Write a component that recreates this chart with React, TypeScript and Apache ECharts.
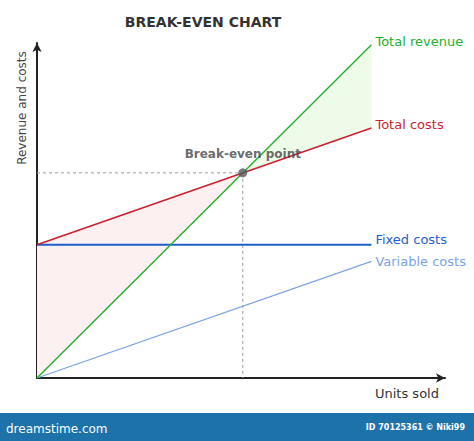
import React, { useEffect, useRef } from 'react';
import * as echarts from 'echarts';

// Data (arbitrary units)
const unitsSold = [0, 100];
const totalRevenue = [0, 100];
const fixedCosts = [40, 40];
const variableCosts = [0, 35];
const totalCosts = fixedCosts.map((f, i) => f + variableCosts[i]);
const xAxisMax = 122;
const yAxisMax = 100.5;

const revSlope = (totalRevenue[1] - totalRevenue[0]) / (unitsSold[1] - unitsSold[0]);
const tcSlope = (totalCosts[1] - totalCosts[0]) / (unitsSold[1] - unitsSold[0]);
const breakEvenX = (totalCosts[0] - totalRevenue[0]) / (revSlope - tcSlope);
const breakEvenY = totalRevenue[0] + revSlope * breakEvenX;

const FONT = 'DejaVu Sans';

const pairs = (ys: number[]) => unitsSold.map((x, i) => [x, ys[i]]);

const lossPolygon = [[unitsSold[0], totalRevenue[0]], [unitsSold[0], totalCosts[0]], [breakEvenX, breakEvenY]];
const profitPolygon = [[breakEvenX, breakEvenY], [unitsSold[1], totalRevenue[1]], [unitsSold[1], totalCosts[1]]];

export default function App() {
  const ref = useRef<HTMLDivElement>(null);
  useEffect(() => {
    if (!ref.current) return;
    const chart = echarts.init(ref.current, undefined, { renderer: 'svg' });
    const polySeries = (name: string, poly: number[][], color: string) => ({
      type: 'custom',
      name,
      data: [0],
      z: 1,
      silent: true,
      renderItem: (_p: any, api: any) => ({
        type: 'polygon',
        shape: { points: poly.map((pt) => api.coord(pt)) },
        style: { fill: color },
      }),
    });
    const lineSeries = (name: string, ys: number[], color: string, width: number, offY: number) => ({
      type: 'line',
      name,
      data: pairs(ys),
      symbol: 'none',
      z: 3,
      lineStyle: { color, width },
      endLabel: {
        show: true,
        formatter: name,
        color,
        fontFamily: FONT,
        fontSize: 13,
        distance: 4,
        offset: [0, offY],
      },
    });
    chart.setOption({
      animation: false,
      backgroundColor: '#ffffff',
      grid: { left: 37, right: 29, top: 43, bottom: 63 },
      xAxis: {
        type: 'value',
        min: 0,
        max: xAxisMax,
        axisLine: { show: true, onZero: false, symbol: ['none', 'arrow'], symbolSize: [7, 9], lineStyle: { color: '#222', width: 2 } },
        axisTick: { show: false },
        axisLabel: { show: false },
        splitLine: { show: false },
      },
      yAxis: {
        type: 'value',
        min: 0,
        max: yAxisMax,
        axisLine: { show: true, onZero: false, symbol: ['none', 'arrow'], symbolSize: [7, 9], lineStyle: { color: '#222', width: 2 } },
        axisTick: { show: false },
        axisLabel: { show: false },
        splitLine: { show: false },
      },
      series: [
        polySeries('Loss area', lossPolygon, '#fdf0f0'),
        polySeries('Profit area', profitPolygon, '#effbe9'),
        {
          type: 'line',
          name: 'guide-h',
          data: [[0, breakEvenY], [breakEvenX, breakEvenY]],
          symbol: 'none',
          z: 2,
          lineStyle: { color: '#999', width: 1, type: [3, 3] },
        },
        {
          type: 'line',
          name: 'guide-v',
          data: [[breakEvenX, breakEvenY], [breakEvenX, 0]],
          symbol: 'none',
          z: 2,
          lineStyle: { color: '#999', width: 1, type: [3, 3] },
        },
        lineSeries('Fixed costs', fixedCosts, '#1f5fcc', 2, -5),
        lineSeries('Variable costs', variableCosts, '#7ba3e6', 1.3, 0),
        lineSeries('Total costs', totalCosts, '#cc1f2e', 1.6, -4),
        lineSeries('Total revenue', totalRevenue, '#22b02a', 1.4, -3),
        {
          type: 'scatter',
          name: 'Break-even point',
          data: [[breakEvenX, breakEvenY]],
          symbolSize: 9,
          z: 5,
          itemStyle: { color: '#555a5e' },
          label: {
            show: true,
            position: 'top',
            distance: 8,
            formatter: 'Break-even point',
            color: '#444',
            fontFamily: FONT,
            fontWeight: 'bold',
            fontSize: 12,
          },
        },
      ],
      graphic: [
        {
          type: 'text',
          style: { text: 'BREAK-EVEN CHART', x: 203, y: 22, align: 'center', verticalAlign: 'middle', fill: '#333', font: `bold 14px "${FONT}"` },
        },
        {
          type: 'text',
          style: { text: 'Profit', x: 338, y: 113, align: 'center', verticalAlign: 'middle', fill: '#3a9a1a', font: `bold 13px "${FONT}"` },
        },
        {
          type: 'text',
          style: { text: 'Loss', x: 84, y: 273, align: 'center', verticalAlign: 'middle', fill: '#cc1f2e', font: `bold 13px "${FONT}"` },
        },
        {
          type: 'text',
          style: { text: 'Units sold', x: 375, y: 393, align: 'left', verticalAlign: 'middle', fill: '#333', font: `13px "${FONT}"` },
        },
        {
          type: 'text',
          x: 22,
          y: 108,
          rotation: Math.PI / 2,
          style: { text: 'Revenue and costs', x: 0, y: 0, align: 'center', verticalAlign: 'middle', fill: '#444', font: `12px "${FONT}"` },
        },
        {
          type: 'rect',
          shape: { x: 0, y: 413, width: 474, height: 28 },
          style: { fill: '#1c72a9' },
        },
        {
          type: 'text',
          style: { text: 'dreamstime.com', x: 6, y: 429, align: 'left', verticalAlign: 'middle', fill: '#ffffff', font: `12px "${FONT}"` },
        },
        {
          type: 'text',
          style: { text: 'ID 70125361 © Niki99', x: 465, y: 427, align: 'right', verticalAlign: 'middle', fill: '#ffffff', font: `bold 8px "${FONT}"` },
        },
      ],
    });
    return () => chart.dispose();
  }, []);
  return <div ref={ref} style={{ position: 'fixed', left: 0, top: 0, width: 474, height: 441 }} />;
}
